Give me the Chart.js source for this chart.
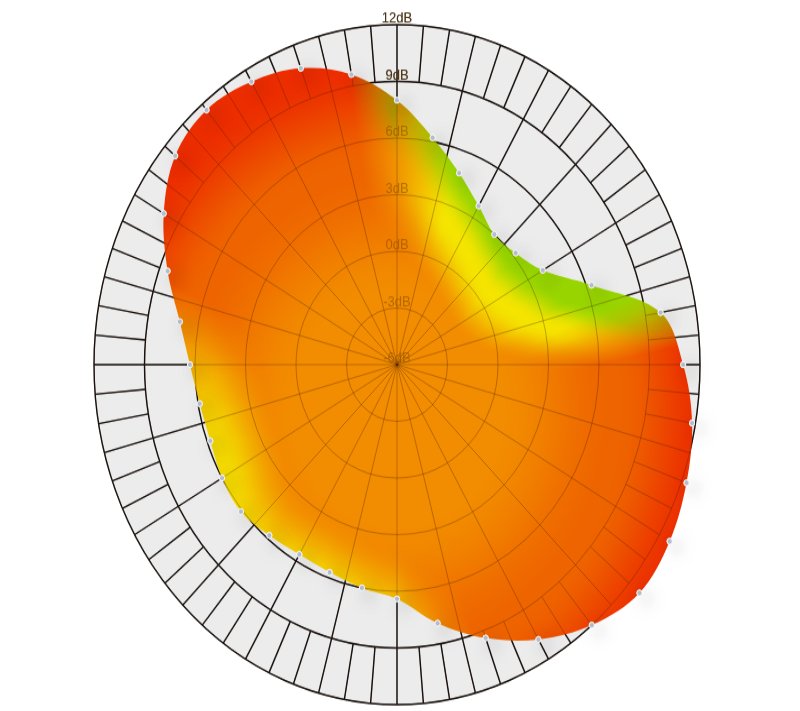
<!DOCTYPE html>
<html><head><meta charset="utf-8">
<script src="https://cdn.jsdelivr.net/npm/chart.js@4"></script>
<style>
html,body{margin:0;padding:0;background:#fff;overflow:hidden;height:711px}
#wrap{width:800px;height:650px;transform:scaleY(1.122);transform-origin:0 0}
</style></head><body>
<div id="wrap"><canvas id="c"></canvas></div>
<script>
const angles = [0,10,20,30,40,50,60,70,80,90,100,110,120,130,140,150,160,170,180,190,200,210,220,230,240,250,260,270,280,290,300,310,320,330,340,350];
const gainDb = [8.0,6.2,4.8,3.7,3.0,3.2,4.0,6.3,9.9,11.0,11.8,12.3,12.7,12.8,12.0,10.8,9.4,7.9,6.4,6.0,5.7,5.6,5.8,6.1,6.0,5.8,5.9,6.3,7.1,8.5,10.0,11.2,11.6,11.3,10.7,9.6];
const tickValues = [-6,-3,0,3,6,9,12];
const tickLabels = ['-6dB','-3dB','0dB','3dB','6dB','9dB','12dB'];

function mix(a,b,t){return [a[0]+(b[0]-a[0])*t,a[1]+(b[1]-a[1])*t,a[2]+(b[2]-a[2])*t];}
function sstep(a,b,x){const t=Math.min(1,Math.max(0,(x-a)/(b-a)));return t*t*(3-2*t);}
let patternCache=null;
function shadedFill(ctx){
  const chart=ctx.chart, s=chart.scales.r;
  if(!s || !isFinite(s.xCenter) || !(s.drawingArea>0)) return '#ee8800';
  const W=chart.width,H=chart.height,key=W+'x'+H+'x'+s.xCenter+'x'+s.yCenter;
  if(patternCache && patternCache.key===key) return patternCache.p;
  const off=document.createElement('canvas');off.width=W;off.height=H;
  const octx=off.getContext('2d');const img=octx.createImageData(W,H);const d=img.data;
  const cx=s.xCenter,cy=s.yCenter;
  const n=angles.length;
  for(let y=0;y<H;y++)for(let x=0;x<W;x++){
    const dx=x-cx,dy=y-cy,r=Math.hypot(dx,dy);
    let th=Math.atan2(dx,-dy)*180/Math.PI;if(th<0)th+=360;
    const i0=Math.floor(th/10)%n,i1=(i0+1)%n,f=(th-i0*10)/10;
    const bdb=gainDb[i0]*(1-f)+gainDb[i1]*f;
    const br=s.getDistanceFromCenterForValue(bdb);
    const t=r/br;
    let c=[242,140,0];
    c=mix(c,[238,100,0],sstep(100,220,r));
    c=mix(c,[236,45,0],sstep(220,310,r));
    const conc=Math.min(1,Math.max(0,(9.5-bdb)/4));
    const gw=th<150?0.45:1.0;
    c=mix(c,[244,228,0],conc*sstep(0.52,0.8,t));
    c=mix(c,[40,195,0],gw*conc*sstep(0.82,1.02,t));
    const k=(y*W+x)*4;d[k]=c[0];d[k+1]=c[1];d[k+2]=c[2];d[k+3]=255;
  }
  octx.putImageData(img,0,0);
  const p=chart.ctx.createPattern(off,'no-repeat');
  patternCache={key,p};return p;
}

function drawGrid(chart,color,lw,withFill){
  const s=chart.scales.r,ctx=chart.ctx,cx=s.xCenter,cy=s.yCenter;
  const r9=s.getDistanceFromCenterForValue(9),r12=s.getDistanceFromCenterForValue(12);
  ctx.save();
  if(withFill){ctx.fillStyle='#ececec';ctx.beginPath();ctx.arc(cx,cy,r12,0,2*Math.PI);ctx.fill();}
  ctx.strokeStyle=color;ctx.lineWidth=lw;
  for(let a=0;a<360;a+=5){const t=(a-90)*Math.PI/180;ctx.beginPath();ctx.moveTo(cx+r9*Math.cos(t),cy+r9*Math.sin(t));ctx.lineTo(cx+r12*Math.cos(t),cy+r12*Math.sin(t));ctx.stroke();}
  for(let a=0;a<360;a+=15){const t=(a-90)*Math.PI/180;ctx.beginPath();ctx.moveTo(cx,cy);ctx.lineTo(cx+r9*Math.cos(t),cy+r9*Math.sin(t));ctx.stroke();}
  tickValues.forEach(v=>{if(v===-6)return;const r=s.getDistanceFromCenterForValue(v);ctx.beginPath();ctx.arc(cx,cy,r,0,2*Math.PI);ctx.stroke();});
  ctx.restore();
}
function drawLabels(chart,color){
  const s=chart.scales.r,ctx=chart.ctx,cx=s.xCenter,cy=s.yCenter;
  ctx.save();ctx.font='13px "Liberation Sans", Arial, sans-serif';ctx.textAlign='center';ctx.textBaseline='bottom';ctx.fillStyle=color;
  tickValues.forEach((v,i)=>{const r=s.getDistanceFromCenterForValue(v);ctx.fillText(tickLabels[i],cx,cy-r+1);});
  ctx.restore();
}
const gridPlugin={id:'grid',
  beforeDatasetsDraw(chart){drawGrid(chart,'#111',1.4,true);drawLabels(chart,'#222');},
  afterDatasetsDraw(chart){drawGrid(chart,'rgba(60,20,0,0.3)',1,false);drawLabels(chart,'rgba(120,70,0,0.5)');
    const meta=chart.getDatasetMeta(0);meta.data.forEach(pt=>pt.draw(chart.ctx));},
  beforeDatasetDraw(chart){const ctx=chart.ctx;ctx.save();ctx.shadowColor='rgba(0,0,0,0.5)';ctx.shadowBlur=16;ctx.shadowOffsetX=7;ctx.shadowOffsetY=5;},
  afterDatasetDraw(chart){chart.ctx.restore();}
};

new Chart(document.getElementById('c'),{
  type:'radar',
  data:{labels:angles.map(a=>a+'°'),datasets:[
    {data:gainDb,fill:'start',backgroundColor:shadedFill,borderWidth:0,borderColor:'rgba(0,0,0,0)',tension:0.35,
     pointRadius:2.6,pointBackgroundColor:'#b4bccc',pointBorderColor:'#ffffff',pointBorderWidth:0.8}
  ]},
  options:{responsive:true,maintainAspectRatio:false,animation:false,devicePixelRatio:1,
    layout:{padding:{top:22,bottom:22,left:0,right:6}},
    plugins:{legend:{display:false},tooltip:{enabled:false}},
    scales:{r:{min:-6,max:12,ticks:{display:false,stepSize:3},pointLabels:{display:false},
      grid:{display:false},angleLines:{display:false}}}
  },
  plugins:[gridPlugin]
});
</script></body></html>
